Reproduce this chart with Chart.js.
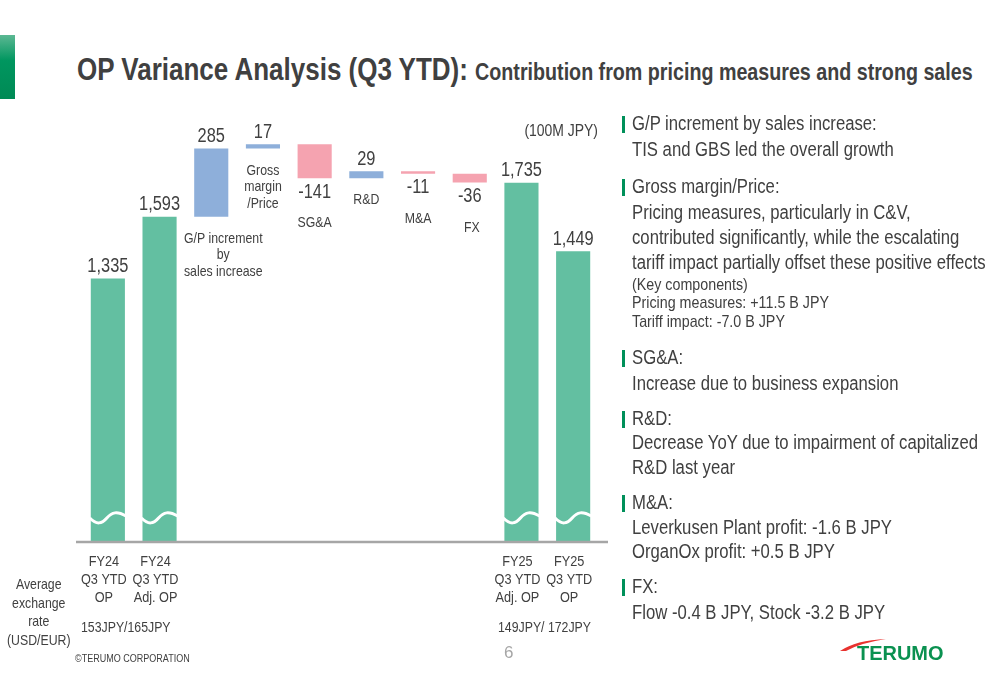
<!DOCTYPE html>
<html>
<head>
<meta charset="utf-8">
<script src="https://cdn.jsdelivr.net/npm/chart.js@4.4.1/dist/chart.umd.min.js"></script>
<style>
  body { margin: 0; width: 1000px; height: 685px; position: relative; background: #fff; overflow: hidden;
         font-family: "Liberation Sans", Arial, sans-serif; color: #404040; }
  #chart { position: absolute; left: 0; top: 0; }
  .nar { display: inline-block; transform: scaleX(0.82); transform-origin: 0 0; white-space: nowrap; }
  .accent { position: absolute; left: 0; top: 35px; width: 15px; height: 64px;
            background: linear-gradient(to bottom, #5cb893, #00965f 40%, #008a55); }
  .title { position: absolute; left: 77px; top: 51px; font-weight: bold; font-size: 31.7px; color: #404040; }
  .title small { font-size: 24px; }
  .item { position: absolute; left: 632px; font-size: 20px; line-height: 25px; transform: scaleX(0.835); }
  .item.sm { font-size: 17px; line-height: 19px; transform: scaleX(0.84); }
  .mark { position: absolute; left: 622px; width: 3px; height: 17px; background: #00905a; }
  .foot { position: absolute; font-size: 15px; }
  .logo { position: absolute; left: 857px; top: 641px; font-weight: bold; font-size: 21px; color: #0a9150; }
  .swoosh { position: absolute; left: 838px; top: 638px; }
</style>
</head>
<body>
<div class="accent"></div>
<div class="title nar">OP Variance Analysis (Q3 YTD): <small>Contribution from pricing measures and strong sales</small></div>
<canvas id="chart" width="1000" height="685"></canvas>

<div class="mark" style="top:116px"></div>
<div class="item nar" style="top:111px">G/P increment by sales increase:</div>
<div class="item nar" style="top:137px">TIS and GBS led the overall growth</div>

<div class="mark" style="top:179px"></div>
<div class="item nar" style="top:174px">Gross margin/Price:</div>
<div class="item nar" style="top:200px">Pricing measures, particularly in C&amp;V,</div>
<div class="item nar" style="top:225px">contributed significantly, while the escalating</div>
<div class="item nar" style="top:250px">tariff impact partially offset these positive effects</div>
<div class="item sm nar" style="top:275px">(Key components)</div>
<div class="item sm nar" style="top:293px">Pricing measures: +11.5 B JPY</div>
<div class="item sm nar" style="top:312px">Tariff impact: -7.0 B JPY</div>

<div class="mark" style="top:350px"></div>
<div class="item nar" style="top:345px">SG&amp;A:</div>
<div class="item nar" style="top:371px">Increase due to business expansion</div>

<div class="mark" style="top:411px"></div>
<div class="item nar" style="top:406px">R&amp;D:</div>
<div class="item nar" style="top:430px">Decrease YoY due to impairment of capitalized</div>
<div class="item nar" style="top:455px">R&amp;D last year</div>

<div class="mark" style="top:495px"></div>
<div class="item nar" style="top:490px">M&amp;A:</div>
<div class="item nar" style="top:515px">Leverkusen Plant profit: -1.6 B JPY</div>
<div class="item nar" style="top:539px">OrganOx profit: +0.5 B JPY</div>

<div class="mark" style="top:579px"></div>
<div class="item nar" style="top:574px">FX:</div>
<div class="item nar" style="top:600px">Flow -0.4 B JPY, Stock -3.2 B JPY</div>

<div class="foot" style="left:0; top:575px; width:76px; text-align:center; line-height:18.5px">
  <span class="nar" style="transform-origin:50% 0">Average<br>exchange<br>rate<br>(USD/EUR)</span></div>
<div class="foot nar" style="left:81px; top:618px">153JPY/165JPY</div>
<div class="foot nar" style="left:498px; top:618px">149JPY/ 172JPY</div>
<div class="foot nar" style="left:75px; top:652px; font-size:11px">©TERUMO CORPORATION</div>
<div class="foot" style="left:504px; top:643px; font-size:17px; color:#a6a6a6">6</div>
<svg class="swoosh" width="50" height="14"><path d="M2 13 Q18 2 48 1 Q22 5 8 13 Z" fill="#e8322f"/></svg>
<div class="logo nar" style="transform:scaleX(0.95)">TERUMO</div>

<script>
// waterfall data (100M JPY)
const CATEGORIES = ['FY24 Q3 YTD OP', 'FY24 Q3 YTD Adj. OP', 'G/P increment by sales increase',
  'Gross margin/Price', 'SG&A', 'R&D', 'M&A', 'FX', 'FY25 Q3 YTD Adj. OP', 'FY25 Q3 YTD OP'];
const VALUES = [1335, 1593, 285, 17, -141, 29, -11, -36, 1735, 1449];
const IS_TOTAL = [true, true, false, false, false, false, false, false, true, true];
const VALUE_LABELS = ['1,335', '1,593', '285', '17', '-141', '29', '-11', '-36', '1,735', '1,449'];
const INNER_LABELS = [[], [], ['G/P increment', 'by', 'sales increase'], ['Gross', 'margin', '/Price'],
  ['SG&A'], ['R&D'], ['M&A'], ['FX'], [], []];
const AXIS_LABELS = [['FY24', 'Q3 YTD', 'OP'], ['FY24', 'Q3 YTD', 'Adj. OP'], [], [], [], [], [], [],
  ['FY25', 'Q3 YTD', 'Adj. OP'], ['FY25', 'Q3 YTD', 'OP']];

const Y_MIN = 240;   // broken axis: bars start here
const Y_MAX = 2080;

const GREEN = '#63bfa1', BLUE = '#8eafda', PINK = '#f5a3b0', TEXT = '#404040';
const FONT = '"Liberation Sans", Arial, sans-serif';
const NARROW = 0.82;

let running = 0;
const bars = VALUES.map((v, i) => {
  if (IS_TOTAL[i]) { running = v; return [Y_MIN, v]; }
  const start = running;
  running += v;
  return [start, running];
});
const colors = VALUES.map((v, i) => IS_TOTAL[i] ? GREEN : (v >= 0 ? BLUE : PINK));

function narrowText(ctx, text, x, y) {
  ctx.save();
  ctx.translate(x, y);
  ctx.scale(NARROW, 1);
  ctx.fillText(text, 0, 0);
  ctx.restore();
}

const waterfallDecor = {
  id: 'waterfallDecor',
  afterDatasetsDraw(chart) {
    const ctx = chart.ctx;
    const y = chart.scales.y;
    const meta = chart.getDatasetMeta(0);
    const base = y.getPixelForValue(Y_MIN);

    // axis break waves
    ctx.save();
    ctx.strokeStyle = '#fff';
    ctx.lineWidth = 3;
    meta.data.forEach((bar, i) => {
      if (!IS_TOTAL[i]) return;
      const w = bar.width, L = bar.x - w / 2 - 1, R = bar.x + w / 2 + 1, wy = base - 23;
      ctx.beginPath();
      ctx.moveTo(L, wy);
      ctx.bezierCurveTo(L + w * 0.2, wy + 7, L + w * 0.35, wy + 6, L + w * 0.5, wy);
      ctx.bezierCurveTo(L + w * 0.65, wy - 6, L + w * 0.8, wy - 7, R, wy - 2);
      ctx.stroke();
    });
    ctx.restore();

    // baseline
    ctx.save();
    ctx.strokeStyle = '#a6a6a6';
    ctx.lineWidth = 2.5;
    ctx.beginPath();
    ctx.moveTo(76, base + 1);
    ctx.lineTo(608, base + 1);
    ctx.stroke();
    ctx.restore();

    ctx.save();
    ctx.fillStyle = TEXT;
    ctx.textAlign = 'center';
    ctx.textBaseline = 'middle';
    meta.data.forEach((bar, i) => {
      const [a, b] = bars[i];
      const top = y.getPixelForValue(Math.max(a, b));
      const bottom = y.getPixelForValue(Math.min(a, b));
      ctx.font = '20px ' + FONT;
      if (IS_TOTAL[i] || VALUES[i] >= 0) {
        narrowText(ctx, VALUE_LABELS[i], bar.x, top - 12);
      } else {
        narrowText(ctx, VALUE_LABELS[i], bar.x, bottom + 14);
      }
      ctx.font = '15px ' + FONT;
      const start = VALUES[i] >= 0 ? bottom + 22 : bottom + 45;
      INNER_LABELS[i].forEach((t, k) => {
        const cx = i === 2 ? bar.x + 12 : bar.x + (i === 7 ? 2 : 0);
        narrowText(ctx, t, cx, start + k * 16.5);
      });
      ctx.font = '15.5px ' + FONT;
      AXIS_LABELS[i].forEach((t, k) => {
        narrowText(ctx, t, bar.x - 4, base + 21 + k * 18);
      });
    });
    ctx.font = '17px ' + FONT;
    ctx.textAlign = 'right';
    narrowText(ctx, '(100M JPY)', 598, 131);
    ctx.restore();
  }
};

new Chart(document.getElementById('chart'), {
  type: 'bar',
  data: {
    labels: CATEGORIES,
    datasets: [{
      data: bars,
      backgroundColor: colors,
      borderWidth: 0,
      barPercentage: 0.66,
      categoryPercentage: 1.0
    }]
  },
  options: {
    responsive: false,
    animation: false,
    layout: { padding: { left: 82, right: 401, top: 100, bottom: 144 } },
    plugins: { legend: { display: false }, tooltip: { enabled: false } },
    scales: {
      x: { display: false },
      y: { display: false, min: Y_MIN, max: Y_MAX }
    }
  },
  plugins: [waterfallDecor]
});
</script>
</body>
</html>
